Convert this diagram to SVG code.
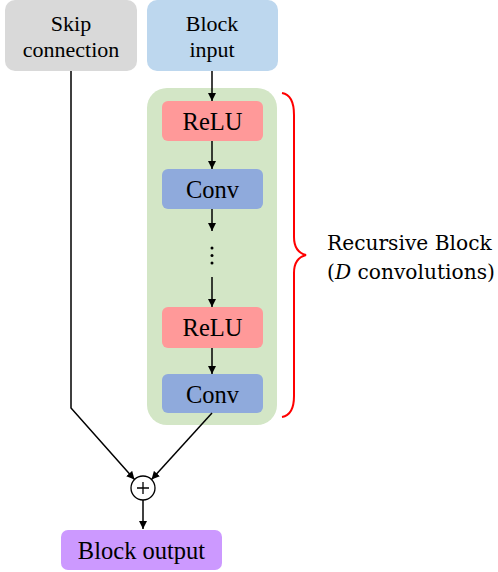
<svg xmlns="http://www.w3.org/2000/svg" width="498" height="572" viewBox="0 0 498 572">
<style>
.t{font-family:'Liberation Serif','DejaVu Serif',serif;font-size:22px;fill:#000;text-anchor:middle}
.b{font-size:24.5px}
.r{font-family:'DejaVu Serif','Liberation Serif',serif;font-size:20.2px;fill:#000}
.c{stroke:#000;stroke-width:1.5;fill:none}
</style>
<defs>
<marker id="ah" viewBox="0 0 10 10" refX="10" refY="5" markerWidth="8" markerHeight="8" markerUnits="userSpaceOnUse" orient="auto">
<path d="M0,0 L10,5 L0,10 z" fill="#000"/>
</marker>
</defs>
<rect width="498" height="572" fill="#fff"/>
<g id="recursive-block">
<rect x="147" y="88" width="130" height="337" rx="20" fill="#d3e6c6"/>
</g>
<g id="skip">
<rect x="5" y="0" width="132" height="71" rx="10" fill="#d9d9d9"/>
<text class="t" x="71" y="31">Skip</text>
<text class="t" x="71" y="57">connection</text>
</g>
<g id="input">
<rect x="147" y="0" width="131" height="71" rx="10" fill="#bdd7ee"/>
<text class="t" x="212" y="31">Block</text>
<text class="t" x="212" y="57">input</text>
</g>
<g id="relu1">
<rect x="162" y="101" width="101" height="40" rx="6" fill="#ff9999"/>
<text class="t b" x="212.5" y="130">ReLU</text>
</g>
<g id="conv1">
<rect x="162" y="169" width="101" height="40" rx="6" fill="#8faadc"/>
<text class="t b" x="212.5" y="198">Conv</text>
</g>
<g id="dots">
<circle cx="212" cy="248" r="1.5" fill="#000"/>
<circle cx="212" cy="255.5" r="1.5" fill="#000"/>
<circle cx="212" cy="263" r="1.5" fill="#000"/>
</g>
<g id="relu2">
<rect x="162" y="307" width="101" height="41" rx="6" fill="#ff9999"/>
<text class="t b" x="212.5" y="336">ReLU</text>
</g>
<g id="conv2">
<rect x="162" y="374" width="101" height="39" rx="6" fill="#8faadc"/>
<text class="t b" x="212.5" y="403">Conv</text>
</g>
<g id="sum">
<circle cx="143" cy="488" r="12" fill="#fff" stroke="#000" stroke-width="1.3"/>
<path d="M137,488 H149 M143,482 V494" stroke="#000" stroke-width="1.3"/>
</g>
<g id="output">
<rect x="61" y="530" width="161" height="40" rx="7" fill="#cc99ff"/>
<text class="t b" x="141.5" y="559">Block output</text>
</g>
<g id="label">
<path d="M282,93 Q294,95 294,115 L294,237 Q294,252 306,255 Q294,258 294,273 L294,396 Q294,415 282,417" stroke="#ff0000" stroke-width="2" fill="none"/>
<text class="r" x="327" y="250">Recursive Block</text>
<text class="r" x="327" y="279">(<tspan font-style="italic">D</tspan> convolutions)</text>
</g>
<g id="connectors">
<path class="c" d="M212,71 V101" marker-end="url(#ah)"/>
<path class="c" d="M212,141 V169" marker-end="url(#ah)"/>
<path class="c" d="M212,209 V231" marker-end="url(#ah)"/>
<path class="c" d="M212,277 V307" marker-end="url(#ah)"/>
<path class="c" d="M212,348 V374" marker-end="url(#ah)"/>
<path class="c" d="M71,71 V408 L134.5,479.5" marker-end="url(#ah)"/>
<path class="c" d="M212,413 L151.5,479.5" marker-end="url(#ah)"/>
<path class="c" d="M143,500 V529" marker-end="url(#ah)"/>
</g>
</svg>
